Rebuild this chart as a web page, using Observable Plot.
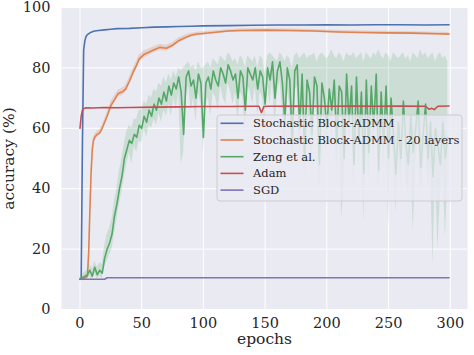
<!DOCTYPE html>
<html><head><meta charset="utf-8">
<script src="https://cdn.jsdelivr.net/npm/d3@7"></script>
<script src="https://cdn.jsdelivr.net/npm/@observablehq/plot@0.6"></script>
<style>body{margin:0;background:#fff}#chart svg{display:block}#chart text{font-family:"DejaVu Serif","Liberation Serif",serif}</style>
</head><body><div id="chart"></div>
<script>
const xTicks = [0, 50, 100, 150, 200, 250, 300];
const yTicks = [0, 20, 40, 60, 80, 100];
const seriesNames = ["Stochastic Block-ADMM", "Stochastic Block-ADMM - 20 layers", "Zeng et al.", "Adam", "SGD"];
const seriesColors = ["#4c72b0", "#dd8452", "#55a868", "#c44e52", "#8172b3"];

const blueEpochs = [0,1,2,3,4,5,6,7,8,10,12,15,20,25,30,40,50,60,70,80,90,100,120,140,160,180,200,220,240,260,280,299];
const blueAcc = [10,10,55,86,89,90.5,91,91.3,91.6,92,92.2,92.4,92.6,92.8,93,93.1,93.3,93.5,93.6,93.7,93.8,93.9,94,94.1,94.2,94.2,94.3,94.2,94.3,94.3,94.2,94.3];

const orangeEpochs = [0,2,4,6,7,8,9,10,11,12,14,16,18,20,22,25,28,31,34,37,40,43,46,48,52,55,60,65,70,75,80,85,90,95,100,110,120,130,150,170,190,210,230,250,270,290,299];
const orangeAcc = [10,10,10.5,11,18,32,45,53,56,57,58,58.5,60,62,64,67.5,69.5,71.5,72,73,75.5,78.5,81,83,84.5,85,86,86.8,86.5,87.5,89,90,90.8,91.2,91.4,91.8,92.2,92.4,92.5,92.4,92.2,91.9,91.7,91.6,91.5,91.3,91.2];
const orangeSpread = [0.2,0.2,0.3,0.5,1,1.5,1.5,1.2,1,1,1,1,1,1.2,1.2,1.3,1.3,1.2,1.2,1.2,1.2,1.3,1.3,1.2,1.2,1.1,1,1,1,0.9,0.9,0.8,0.7,0.6,0.6,0.5,0.5,0.5,0.5,0.5,0.5,0.5,0.5,0.5,0.5,0.5,0.5];

// Zeng et al., every 2 epochs (0..298)
const zengMean = [
 10,10.5,11,11.5,13,11,14,11.5,13,12,
 17,20,22,25,31,35,40,44,50,53,56,55,58,57,61,60,64,62,66,64,
 68,66,70,68,72,69,74,71,75,73,77,72,58,77,79,74,76,70,78,75,
 57,75,77,73,79,76,74,80,78,75,81,79,76,78,70,79,77,66,80,78,
 76,80,73,79,77,68,80,76,82,70,79,82,75,62,80,76,55,79,81,60,
 78,50,76,72,58,77,74,48,75,70,60,73,66,76,55,74,72,50,78,62,
 74,48,77,56,72,45,76,52,74,60,78,46,72,55,74,50,70,58,45,62,
 50,69,55,48,64,52,60,69,47,58,68,50,62,44,60,54,48,62,50,57];
const zengHigh = [
 11,11.5,12.5,13,15,13.5,16,14,15.5,15,
 21,25,27,30,36,40,46,50,55,59,61,60,63,63,66,66,69,68,71,70,
 73,72,75,74,77,75,78,76,79,77,80,79,80,81,82,80,81,79,82,80,
 80,81,82,80,83,82,81,84,83,82,85,84,82,83,81,84,83,80,84,83,
 82,84,80,84,83,78,84,85,84,83,82,85,84,82,84,83,80,84,85,83,
 84,85,83,84,84,85,82,84,85,84,83,84,86,84,83,85,84,82,85,84,
 84,85,83,84,85,82,85,84,83,85,84,86,84,83,85,84,82,85,84,83,
 84,85,83,84,82,85,84,83,86,84,85,83,84,85,82,84,85,83,84,82];
const zengLow = [
 9.5,9.5,10,10,11,9.5,12,10,11,10,
 14,16,18,20,25,30,35,39,44,48,52,48,54,52,56,55,60,57,61,60,
 63,61,65,62,66,64,68,64,70,66,72,48,52,70,74,66,70,62,72,68,
 52,68,70,64,72,70,66,74,70,68,75,72,68,72,62,72,70,58,74,72,
 68,74,64,72,70,58,74,68,76,60,72,76,66,52,72,68,46,72,74,50,
 70,42,68,62,48,70,64,38,66,60,50,64,56,68,45,64,30,42,70,52,
 64,40,68,46,62,29,68,42,64,50,70,38,62,46,66,27,60,48,32,52,
 40,58,44,38,52,26,48,58,38,46,56,40,48,15,46,20,38,48,24,44];
const zengEpochs = d3.range(0, 300, 2);

const adamEpochs = [0,1,2,3,5,10,20,30,40,60,80,100,120,140,145,147,149,152,160,180,200,220,240,260,280,283,285,287,290,299];
const adamAcc = [60,64,66,66.5,66.8,66.7,66.9,66.8,66.9,67,67.1,67.2,67.2,67.3,67.3,65.2,67.2,67.3,67.3,67.4,67.3,67.4,67.3,67.4,67.3,66.3,66.6,66.2,67.3,67.4];

const sgdEpochs = [0,20,22,299];
const sgdAcc = [10,10,10.5,10.5];

const toRows = (xs, ys) => xs.map((x, i) => ({x, y: ys[i]}));
const blue = toRows(blueEpochs, blueAcc);
const orange = orangeEpochs.map((x, i) => ({x, y: orangeAcc[i], lo: orangeAcc[i] - orangeSpread[i], hi: orangeAcc[i] + orangeSpread[i]}));
const zeng = zengEpochs.map((x, i) => ({x, y: zengMean[i], lo: zengLow[i], hi: zengHigh[i]}));
const adam = toRows(adamEpochs, adamAcc);
const sgd = toRows(sgdEpochs, sgdAcc);

const W = 474, H = 355, mL = 61, mR = 7, mT = 7, mB = 46;
const font = "'DejaVu Serif', 'Liberation Serif', serif";
const chart = Plot.plot({
  width: W, height: H, marginLeft: mL, marginRight: mR, marginTop: mT, marginBottom: mB,
  style: {background: "#fff", fontFamily: font, fontSize: "14.5px", color: "#262626"},
  x: {domain: [-14.95, 313.95]},
  y: {domain: [0, 100]},
  marks: [
    Plot.frame({fill: "#eaeaf2", stroke: null}),
    Plot.gridX(xTicks, {stroke: "#fff", strokeOpacity: 1, strokeWidth: 1}),
    Plot.gridY(yTicks, {stroke: "#fff", strokeOpacity: 1, strokeWidth: 1}),
    Plot.axisX(xTicks, {tickSize: 0, tickPadding: 8, label: null, fill: "#262626"}),
    Plot.axisY(yTicks, {tickSize: 0, tickPadding: 11, label: null, fill: "#262626"}),
    Plot.text(["epochs"], {frameAnchor: "bottom", lineAnchor: "middle", textAnchor: "middle", dy: 30, fontSize: 15.5, fill: "#262626"}),
    Plot.text(["accuracy (%)"], {frameAnchor: "left", lineAnchor: "middle", textAnchor: "middle", dx: -52, rotate: -90, fontSize: 15.5, fill: "#262626"}),
    Plot.lineY(blue, {x: "x", y: "y", stroke: seriesColors[0], strokeWidth: 1.6}),
    Plot.areaY(orange, {x: "x", y1: "lo", y2: "hi", fill: seriesColors[1], fillOpacity: 0.25}),
    Plot.lineY(orange, {x: "x", y: "y", stroke: seriesColors[1], strokeWidth: 1.6}),
    Plot.areaY(zeng, {x: "x", y1: "lo", y2: "hi", fill: seriesColors[2], fillOpacity: 0.2}),
    Plot.lineY(zeng, {x: "x", y: "y", stroke: seriesColors[2], strokeWidth: 1.6}),
    Plot.lineY(adam, {x: "x", y: "y", stroke: seriesColors[3], strokeWidth: 1.6}),
    Plot.lineY(sgd, {x: "x", y: "y", stroke: seriesColors[4], strokeWidth: 1.6})
  ]
});
document.getElementById("chart").appendChild(chart);

// legend inside the axes, "center right"
const svg = d3.select(chart);
const lw = 245, lh = 86;
const lx = W - mR - 5 - lw;
const ly = (mT + (H - mB)) / 2 - lh / 2;
const g = svg.append("g").attr("transform", `translate(${lx},${ly})`)
  .attr("text-anchor", "start");
g.append("rect").attr("width", lw).attr("height", lh).attr("rx", 3)
  .style("fill", "#eaeaf2").style("fill-opacity", 0.8)
  .style("stroke", "#cccccc").style("stroke-width", 1);
seriesNames.forEach((name, i) => {
  const cy = 8.3 + i * 16.7;
  g.append("line").attr("x1", 3.5).attr("x2", 26.5).attr("y1", cy).attr("y2", cy)
    .style("stroke", seriesColors[i]).style("stroke-width", 1.6);
  g.append("text").attr("x", 36).attr("y", cy).attr("dy", "0.35em")
    .attr("text-anchor", "start")
    .style("font-family", font).style("font-size", "11.5px").style("fill", "#262626").text(name);
});
</script>
</body></html>
